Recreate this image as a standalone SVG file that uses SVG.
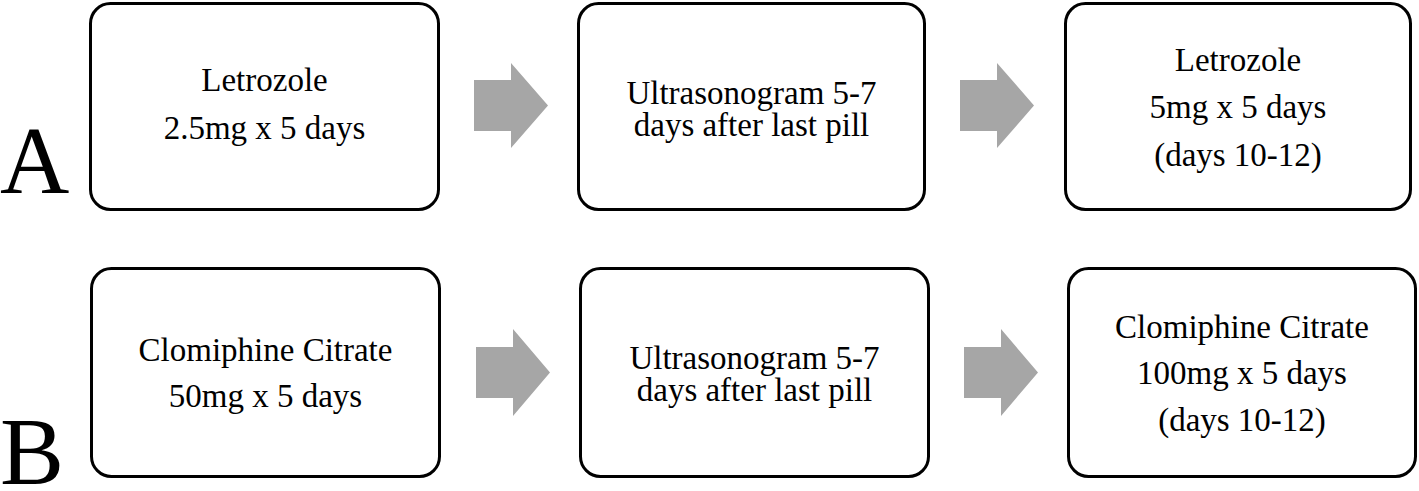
<svg xmlns="http://www.w3.org/2000/svg" width="1419" height="491" viewBox="0 0 1419 491">
<style>
.box{fill:#fff;stroke:#000;stroke-width:3}
.t{font-family:"Liberation Serif","Times New Roman",serif;font-size:33px;fill:#000;text-anchor:middle}
.big{font-family:"Liberation Serif","Times New Roman",serif;font-size:96px;fill:#000}
.arr{fill:#a6a6a6}
</style>
<rect width="1419" height="491" fill="#fff"/>
<g id="labels">
<text class="big" x="0" y="193">A</text>
<text class="big" x="0" y="484">B</text>
</g>
<g id="connectors">
<polygon class="arr" points="474,80 511,80 511,63 548,105.5 511,148 511,131 474,131"/>
<polygon class="arr" points="960,80 997,80 997,63 1034,105.5 997,148 997,131 960,131"/>
<polygon class="arr" points="476,347 513,347 513,329 550,372.5 513,416 513,398 476,398"/>
<polygon class="arr" points="964,347 1001,347 1001,329 1038,372.5 1001,416 1001,398 964,398"/>
</g>
<g id="a1">
<rect class="box" x="90.5" y="3.5" width="348" height="206" rx="20"/>
<text class="t" x="264.5" y="91">Letrozole</text>
<text class="t" x="264.5" y="139">2.5mg x 5 days</text>
</g>
<g id="a2">
<rect class="box" x="578.5" y="3.5" width="346" height="206" rx="20"/>
<text class="t" x="751.5" y="104">Ultrasonogram 5-7</text>
<text class="t" x="751.5" y="136">days after last pill</text>
</g>
<g id="a3">
<rect class="box" x="1065.5" y="3.5" width="345" height="206" rx="20"/>
<text class="t" x="1238" y="71">Letrozole</text>
<text class="t" x="1238" y="118">5mg x 5 days</text>
<text class="t" x="1238" y="166">(days 10-12)</text>
</g>
<g id="b1">
<rect class="box" x="91.5" y="268.5" width="348" height="208" rx="20"/>
<text class="t" x="265.5" y="361">Clomiphine Citrate</text>
<text class="t" x="265.5" y="407">50mg x 5 days</text>
</g>
<g id="b2">
<rect class="box" x="580.5" y="268.5" width="348" height="208" rx="20"/>
<text class="t" x="754.5" y="369">Ultrasonogram 5-7</text>
<text class="t" x="754.5" y="401">days after last pill</text>
</g>
<g id="b3">
<rect class="box" x="1068.5" y="268.5" width="347" height="208" rx="20"/>
<text class="t" x="1242" y="338">Clomiphine Citrate</text>
<text class="t" x="1242" y="384">100mg x 5 days</text>
<text class="t" x="1242" y="431">(days 10-12)</text>
</g>
</svg>
